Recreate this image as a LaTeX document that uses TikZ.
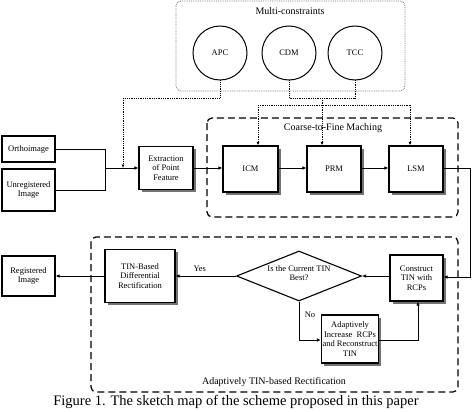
\documentclass[tikz,border=0pt]{standalone}
\usepackage{fontspec}
\setmainfont{Liberation Serif}
\usetikzlibrary{shapes.geometric,shadows,arrows.meta}
\begin{document}
\begin{tikzpicture}[x=1pt,y=-1pt,
  box/.style={draw, line width=1.1pt, fill=white, align=center, inner sep=1pt,
    font=\fontsize{8.5}{9.5}\selectfont},
  sbox/.style={box, drop shadow={shadow xshift=2.5pt, shadow yshift=-2.5pt, fill=black!55, opacity=1}},
  circ/.style={circle, draw, line width=1pt, minimum size=54pt, inner sep=0pt,
    font=\fontsize{8.5}{9.5}\selectfont},
  grpdot/.style={draw=black!55, densely dotted, line width=0.8pt, rounded corners=5pt},
  grpdash/.style={draw, line width=1.2pt, dash pattern=on 7pt off 4pt, rounded corners=5pt},
  title/.style={font=\fontsize{10}{11}\selectfont},
  conn/.style={line width=0.9pt, -{Latex[length=4pt,width=3.5pt]}},
  dconn/.style={line width=0.8pt, densely dotted},
  darr/.style={dconn, -{Latex[length=3.5pt,width=3pt]}},
  lbl/.style={font=\fontsize{8.5}{9.5}\selectfont}
]
\useasboundingbox (0,0) rectangle (474,412);
% group boxes
\draw[grpdot] (176,1) rectangle (405,91);
\node[title] (tmc) at (290,11) {Multi-constraints};
\draw[grpdash] (207,118) rectangle (458,217);
\node[title] (tcf) at (333,128) {Coarse-to-Fine Maching};
\draw[grpdash] (91,237) rectangle (458,392);
\node[title] (tat) at (274,382) {Adaptively TIN-based Rectification};
% circles
\node[circ] (apc) at (220,53) {APC};
\node[circ] (cdm) at (289,53) {CDM};
\node[circ] (tcc) at (355,53) {TCC};
% input boxes
\node[box, minimum width=53pt, minimum height=26pt] (ortho) at (28.5,149) {Orthoimage};
\node[box, minimum width=53pt, minimum height=42pt] (unreg) at (28.5,190) {Unregistered\\Image};
\node[box, minimum width=53pt, minimum height=40pt] (reg) at (28.5,276) {Registered\\Image};
% main row
\node[sbox, minimum width=54pt, minimum height=43pt] (ext) at (166,168) {Extraction\\of Point\\Feature};
\node[sbox, minimum width=55pt, minimum height=46pt] (icm) at (250.5,169) {ICM};
\node[sbox, minimum width=54pt, minimum height=46pt] (prm) at (334,169) {PRM};
\node[sbox, minimum width=54pt, minimum height=46pt] (lsm) at (416,169) {LSM};
% lower row
\node[sbox, minimum width=70pt, minimum height=53pt] (tin) at (140,276) {TIN-Based\\Differential\\Rectification};
\node[diamond, draw, line width=1.1pt, minimum width=125pt, minimum height=50pt, inner sep=0pt] (dia) at (299,276) {};
\node[lbl, align=center] (diat) at (299,273) {Is the Current TIN\\Best?};
\node[sbox, minimum width=53pt, minimum height=46pt] (con) at (416.5,278) {Construct\\TIN with\\RCPs};
\node[sbox, minimum width=56pt, minimum height=48pt] (ada) at (350,339) {Adaptively\\Increase~~RCPs\\and Reconstruct\\TIN};
% coordinates
\coordinate (mrg) at (105,168);
\coordinate (jn) at (123,168);
\coordinate (apcb) at (220,98);
\coordinate (apcl) at (123,98);
\coordinate (cdmb) at (289,98);
\coordinate (tccb) at (355,98);
\coordinate (mid) at (322,98);
\coordinate (bar) at (322,105);
\coordinate (barl) at (258,105);
\coordinate (barr) at (410,105);
\coordinate (rt1) at (470,168);
\coordinate (rt2) at (470,277);
\coordinate (nob) at (299,340);
\coordinate (adr) at (418,340);
% solid connectors
\draw[line width=0.9pt] (ortho.east) -| (mrg);
\draw[line width=0.9pt] (unreg.east) -| (mrg);
\draw[conn] (mrg) -- (ext.west);
\draw[conn] (ext.east) -- (icm.west |- ext.east);
\draw[conn] (icm.east |- ext.east) -- (prm.west |- ext.east);
\draw[conn] (prm.east |- ext.east) -- (lsm.west |- ext.east);
\draw[conn] (lsm.east |- ext.east) -- (rt1) -- (rt2) -- (con.east |- rt2);
\draw[conn] (con.west |- dia.east) -- (dia.east);
\draw[conn] (dia.west) -- node[lbl, above=1pt, pos=0.6] {Yes} (tin.east |- dia.west);
\draw[conn] (tin.west |- reg.east) -- (reg.east);
\draw[conn] (dia.south) -- node[lbl, right=2pt, pos=0.35] {No} (nob) -- (ada.west |- nob);
\draw[conn] (ada.east |- adr) -- (adr) -- (adr |- con.south);
% dotted connectors
\draw[dconn] (apc.south) -- (apcb) -- (apcl);
\draw[darr] (apcl) -- (jn);
\draw[dconn] (cdm.south) -- (cdmb) -- (tccb) -- (tcc.south);
\draw[dconn] (mid) -- (bar);
\draw[dconn] (barl) -- (barr);
\draw[darr] (barl) -- (barl |- icm.north);
\draw[darr] (bar) -- (bar |- prm.north);
\draw[darr] (barr) -- (barr |- lsm.north);
% caption
\node[font=\fontsize{14.5}{16}\selectfont] (cap) at (236,402) {Figure 1. The sketch map of the scheme proposed in this paper};
\end{tikzpicture}
\end{document}
